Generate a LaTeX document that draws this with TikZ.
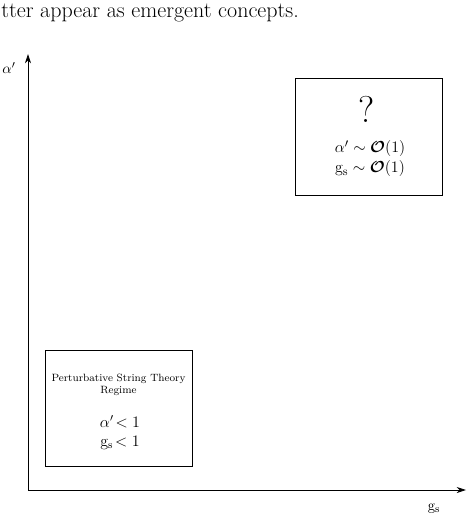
\documentclass[tikz,border=0pt]{standalone}
\usepackage{amsmath}
\usepackage{bm}
\usetikzlibrary{fit}
\usetikzlibrary{arrows.meta}
\tikzstyle{axis}=[semithick, {Stealth[length=7pt, width=4.5pt]}-{Stealth[length=7pt, width=4.5pt]}]
\tikzstyle{regime}=[draw, semithick, inner sep=0]
\tikzstyle{phrase}=[inner sep=0, anchor=base]
\newcommand{\gstr}{\mathrm{g}_{\mathrm{s}}}
\newcommand{\bigO}{\bm{\mathcal{O}}}

\begin{document}
\begin{tikzpicture}[x=0.75pt, y=-0.75pt]
      \useasboundingbox (0,0) rectangle (474,520);
      \node[phrase, anchor=base west, font=\fontsize{16.5}{19}\selectfont] (intro) at (1,18)
        {tter appear as emergent concepts.};

      \coordinate (alpha_end) at (28,54);
      \coordinate (origin) at (28,490);
      \coordinate (gs_end) at (466,490);
      \draw[axis] (alpha_end) -- (origin) -- (gs_end);
      \node[font=\fontsize{11}{13}\selectfont] (alpha_label) at (9,68) {$\alpha'$};
      \node[font=\fontsize{11}{13}\selectfont] (gs_label) at (434,509) {$\gstr$};

      % strongly coupled corner
      \coordinate (q_nw) at (295,78);
      \coordinate (q_se) at (442,195);
      \node[regime, fit=(q_nw) (q_se)] (q_box) {};
      \node[phrase, font=\fontsize{28}{32}\selectfont] (q_mark) at (367,123) {?};
      \node[phrase, font=\fontsize{12.5}{15}\selectfont] (q_alpha) at (370,153) {$\alpha' \sim \bigO(1)$};
      \node[phrase, font=\fontsize{12.5}{15}\selectfont] (q_gs) at (370,173) {$\gstr \sim \bigO(1)$};

      % perturbative corner
      \coordinate (p_nw) at (45,350);
      \coordinate (p_se) at (192,466);
      \node[regime, fit=(p_nw) (p_se)] (p_box) {};
      \node[phrase, font=\fontsize{7.9}{10}\selectfont] (p_title) at (118.5,381) {Perturbative String Theory};
      \node[phrase, font=\fontsize{7.9}{10}\selectfont] (p_regime) at (118.5,393) {Regime};
      \node[phrase, font=\fontsize{12}{14}\selectfont] (p_alpha) at (120,427) {$\alpha'\!< 1$};
      \node[phrase, font=\fontsize{12}{14}\selectfont] (p_gs) at (120,446) {$\gstr\!< 1$};
    \end{tikzpicture}
\end{document}
